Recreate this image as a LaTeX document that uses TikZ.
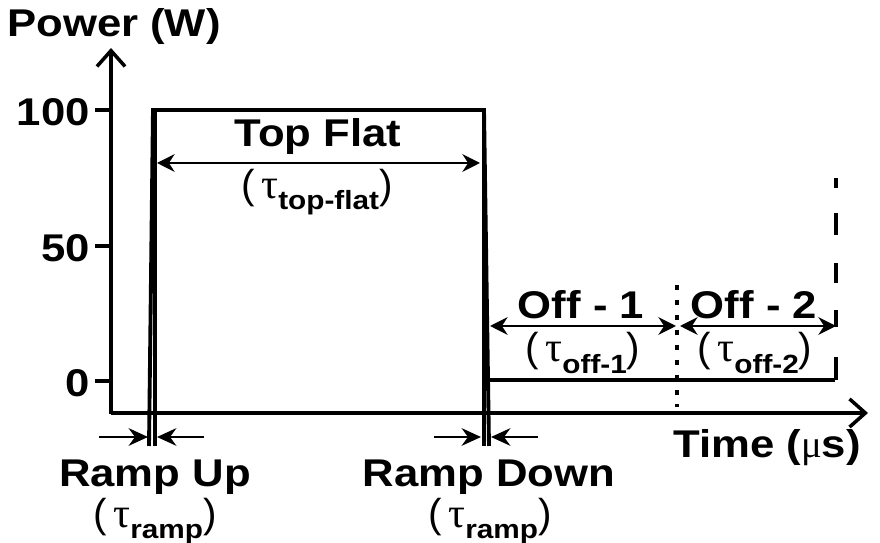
\documentclass[tikz,border=0pt]{standalone}
\usepackage{fontspec}
\setmainfont[FakeStretch=1.13]{Liberation Sans Bold}
\newfontfamily\taufont{Liberation Serif}
\newfontfamily\parenfont{Liberation Sans}
\usetikzlibrary{arrows.meta}
\tikzset{
    axisline/.style={line width=2pt,-{Straight Barb[length=9pt,width=16pt,line width=2pt]}},
    pulseline/.style={line width=2.2pt},
    span/.style={line width=1.5pt,{Stealth[length=10pt,width=10pt]}-{Stealth[length=10pt,width=10pt]}},
    ramparrow/.style={line width=1.4pt,-{Stealth[length=11pt,width=10pt]}},
    bigtext/.style={font=\fontsize{22}{26}\selectfont,inner sep=0pt},
}
\newcommand{\taulabel}[1]{{\parenfont\fontsize{23}{26}\selectfont(}\,{\taufont\fontsize{24}{26}\selectfont τ}\raisebox{-.3em}{\fontsize{15}{18}\selectfont #1}{\parenfont\fontsize{23}{26}\selectfont)}}
\begin{document}
\begin{tikzpicture}[x=0.02cm,y=-0.02cm]
    \useasboundingbox (0,0) rectangle (880,543);
    % axes
    \draw[axisline] (111,414)--(111,48);
    \draw[axisline] (111,413)--(868,413);
    \draw[pulseline] (95,110)--(111,110);
    \draw[pulseline] (95,246)--(111,246);
    \draw[pulseline] (95,381)--(111,381);
    % pulse
    \draw[pulseline] (149,446)--(153,110)--(484,110)--(484,446);
    \draw[pulseline] (155,110)--(155,446);
    \draw[pulseline] (484,110)--(489,446);
    \draw[pulseline] (489,380)--(835,380);
    \foreach \ya/\yb in {380/357,327/310,283/263,235/213,188/178}
        \draw[pulseline] (836,\ya)--(836,\yb);
    \draw[line width=2.2pt,dash pattern=on 3pt off 5.5pt] (677,285)--(677,407);
    % spans
    \draw[span] (157,163)--(480,163);
    \draw[span] (490,326)--(676,326);
    \draw[span] (680,326)--(836,326);
    \draw[ramparrow] (99,437)--(148,437);
    \draw[ramparrow] (204,437)--(157,437);
    \draw[ramparrow] (434,437)--(481,437);
    \draw[ramparrow] (538,437)--(491,437);
    % labels
    \node[bigtext] (powerlabel) at (114,27) {Power (W)};
    \node[bigtext] (timelabel) at (767,448) {Time ({\taufont μ}s)};
    \node[bigtext,anchor=east] (tick100) at (90,112) {100};
    \node[bigtext,anchor=east] (tick50) at (90,248) {50};
    \node[bigtext,anchor=east] (tick0) at (90,383) {0};
    \node[bigtext] (topflat) at (318,137) {Top Flat};
    \node[bigtext] (topflattau) at (317,192) {\taulabel{top-flat}};
    \node[bigtext] (offone) at (581,305) {Off - 1};
    \node[bigtext] (offtwo) at (754,305) {Off - 2};
    \node[bigtext] (offonetau) at (583,353) {\taulabel{off-1}};
    \node[bigtext] (offtwotau) at (755,353) {\taulabel{off-2}};
    \node[bigtext] (rampup) at (155,477) {Ramp Up};
    \node[bigtext] (rampdown) at (489,477) {Ramp Down};
    \node[bigtext] (rampuptau) at (155,521) {\taulabel{ramp}};
    \node[bigtext] (rampdowntau) at (490,521) {\taulabel{ramp}};
\end{tikzpicture}
\end{document}
